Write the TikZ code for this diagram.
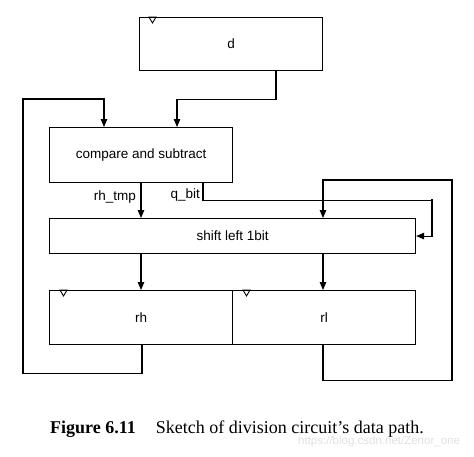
\documentclass[tikz,border=0pt]{standalone}
\usepackage{fontspec}
\setmainfont{Liberation Serif}
\setsansfont{Liberation Sans}
\usetikzlibrary{arrows.meta}
\begin{document}
\begin{tikzpicture}[x=1pt,y=-1pt,
  box/.style={draw,line width=1.1pt,inner sep=0pt,anchor=north west,font=\sffamily\fontsize{13.5}{15}\selectfont},
  wire/.style={line width=1.1pt},
  arr/.style={wire,-{Triangle[length=8pt,width=6.5pt]}},
  lbl/.style={font=\sffamily\fontsize{13.5}{15}\selectfont,inner sep=0pt},
  clk/.style={line width=0.9pt,line join=miter}]
\useasboundingbox (0,0) rectangle (474,456);
\node[box,minimum width=183pt,minimum height=53pt] (d) at (139,17) {d};
\node[box,minimum width=183pt,minimum height=55pt] (cmp) at (49,127) {compare and subtract};
\node[box,minimum width=366pt,minimum height=35pt] (sh) at (49,218) {shift left 1bit};
\node[box,minimum width=183pt,minimum height=54pt] (rh) at (49,290) {rh};
\node[box,minimum width=183pt,minimum height=54pt] (rl) at (232,290) {rl};
% clock marks
\draw[clk] ([xshift=10]d.north west) -- ++(7,0) -- ++(-3.5,6) -- cycle;
\draw[clk] ([xshift=11]rh.north west) -- ++(7,0) -- ++(-3.5,6) -- cycle;
\draw[clk] ([xshift=11]rl.north west) -- ++(7,0) -- ++(-3.5,6) -- cycle;
% coordinates
\coordinate (L) at (23,99);
\coordinate (Q) at (432,199);
\coordinate (R) at (452,180);
% d -> compare
\draw[arr] ([xshift=137]d.south west) -- ++(0,28) -| ([xshift=128]cmp.north west);
% rh -> compare (left loop)
\draw[arr] ([xshift=93]rh.south west) -- ++(0,28) -| (L) -| ([xshift=55]cmp.north west);
% rh_tmp
\draw[arr] ([xshift=92]cmp.south west) -- ([xshift=92]sh.north west);
\node[lbl,anchor=east] (rhtmp) at (136,197) {rh\_tmp};
% q_bit
\draw[arr] ([xshift=154]cmp.south west) -- ++(0,17) -| (Q) |- (sh.east);
\node[lbl,anchor=east] (qbit) at (200,195) {q\_bit};
% rl -> shift (right loop)
\draw[arr] ([xshift=91]rl.south west) -- ++(0,35) -| (R) -| ([xshift=274]sh.north west);
% shift -> rh, rl
\draw[arr] ([xshift=92]sh.south west) -- ([xshift=92]rh.north west);
\draw[arr] ([xshift=274]sh.south west) -- ([xshift=91]rl.north west);
% caption
\node[anchor=west,inner sep=0pt,font=\fontsize{18}{20}\selectfont] (cap) at (50,429) {\textbf{Figure 6.11}\hspace{20pt}Sketch of division circuit’s data path.};
\node[anchor=west,inner sep=0pt,text=black!12,font=\sffamily\fontsize{11.5}{12}\selectfont] (wm) at (298,442) {https://blog.csdn.net/Zenor\_one};
\end{tikzpicture}
\end{document}
